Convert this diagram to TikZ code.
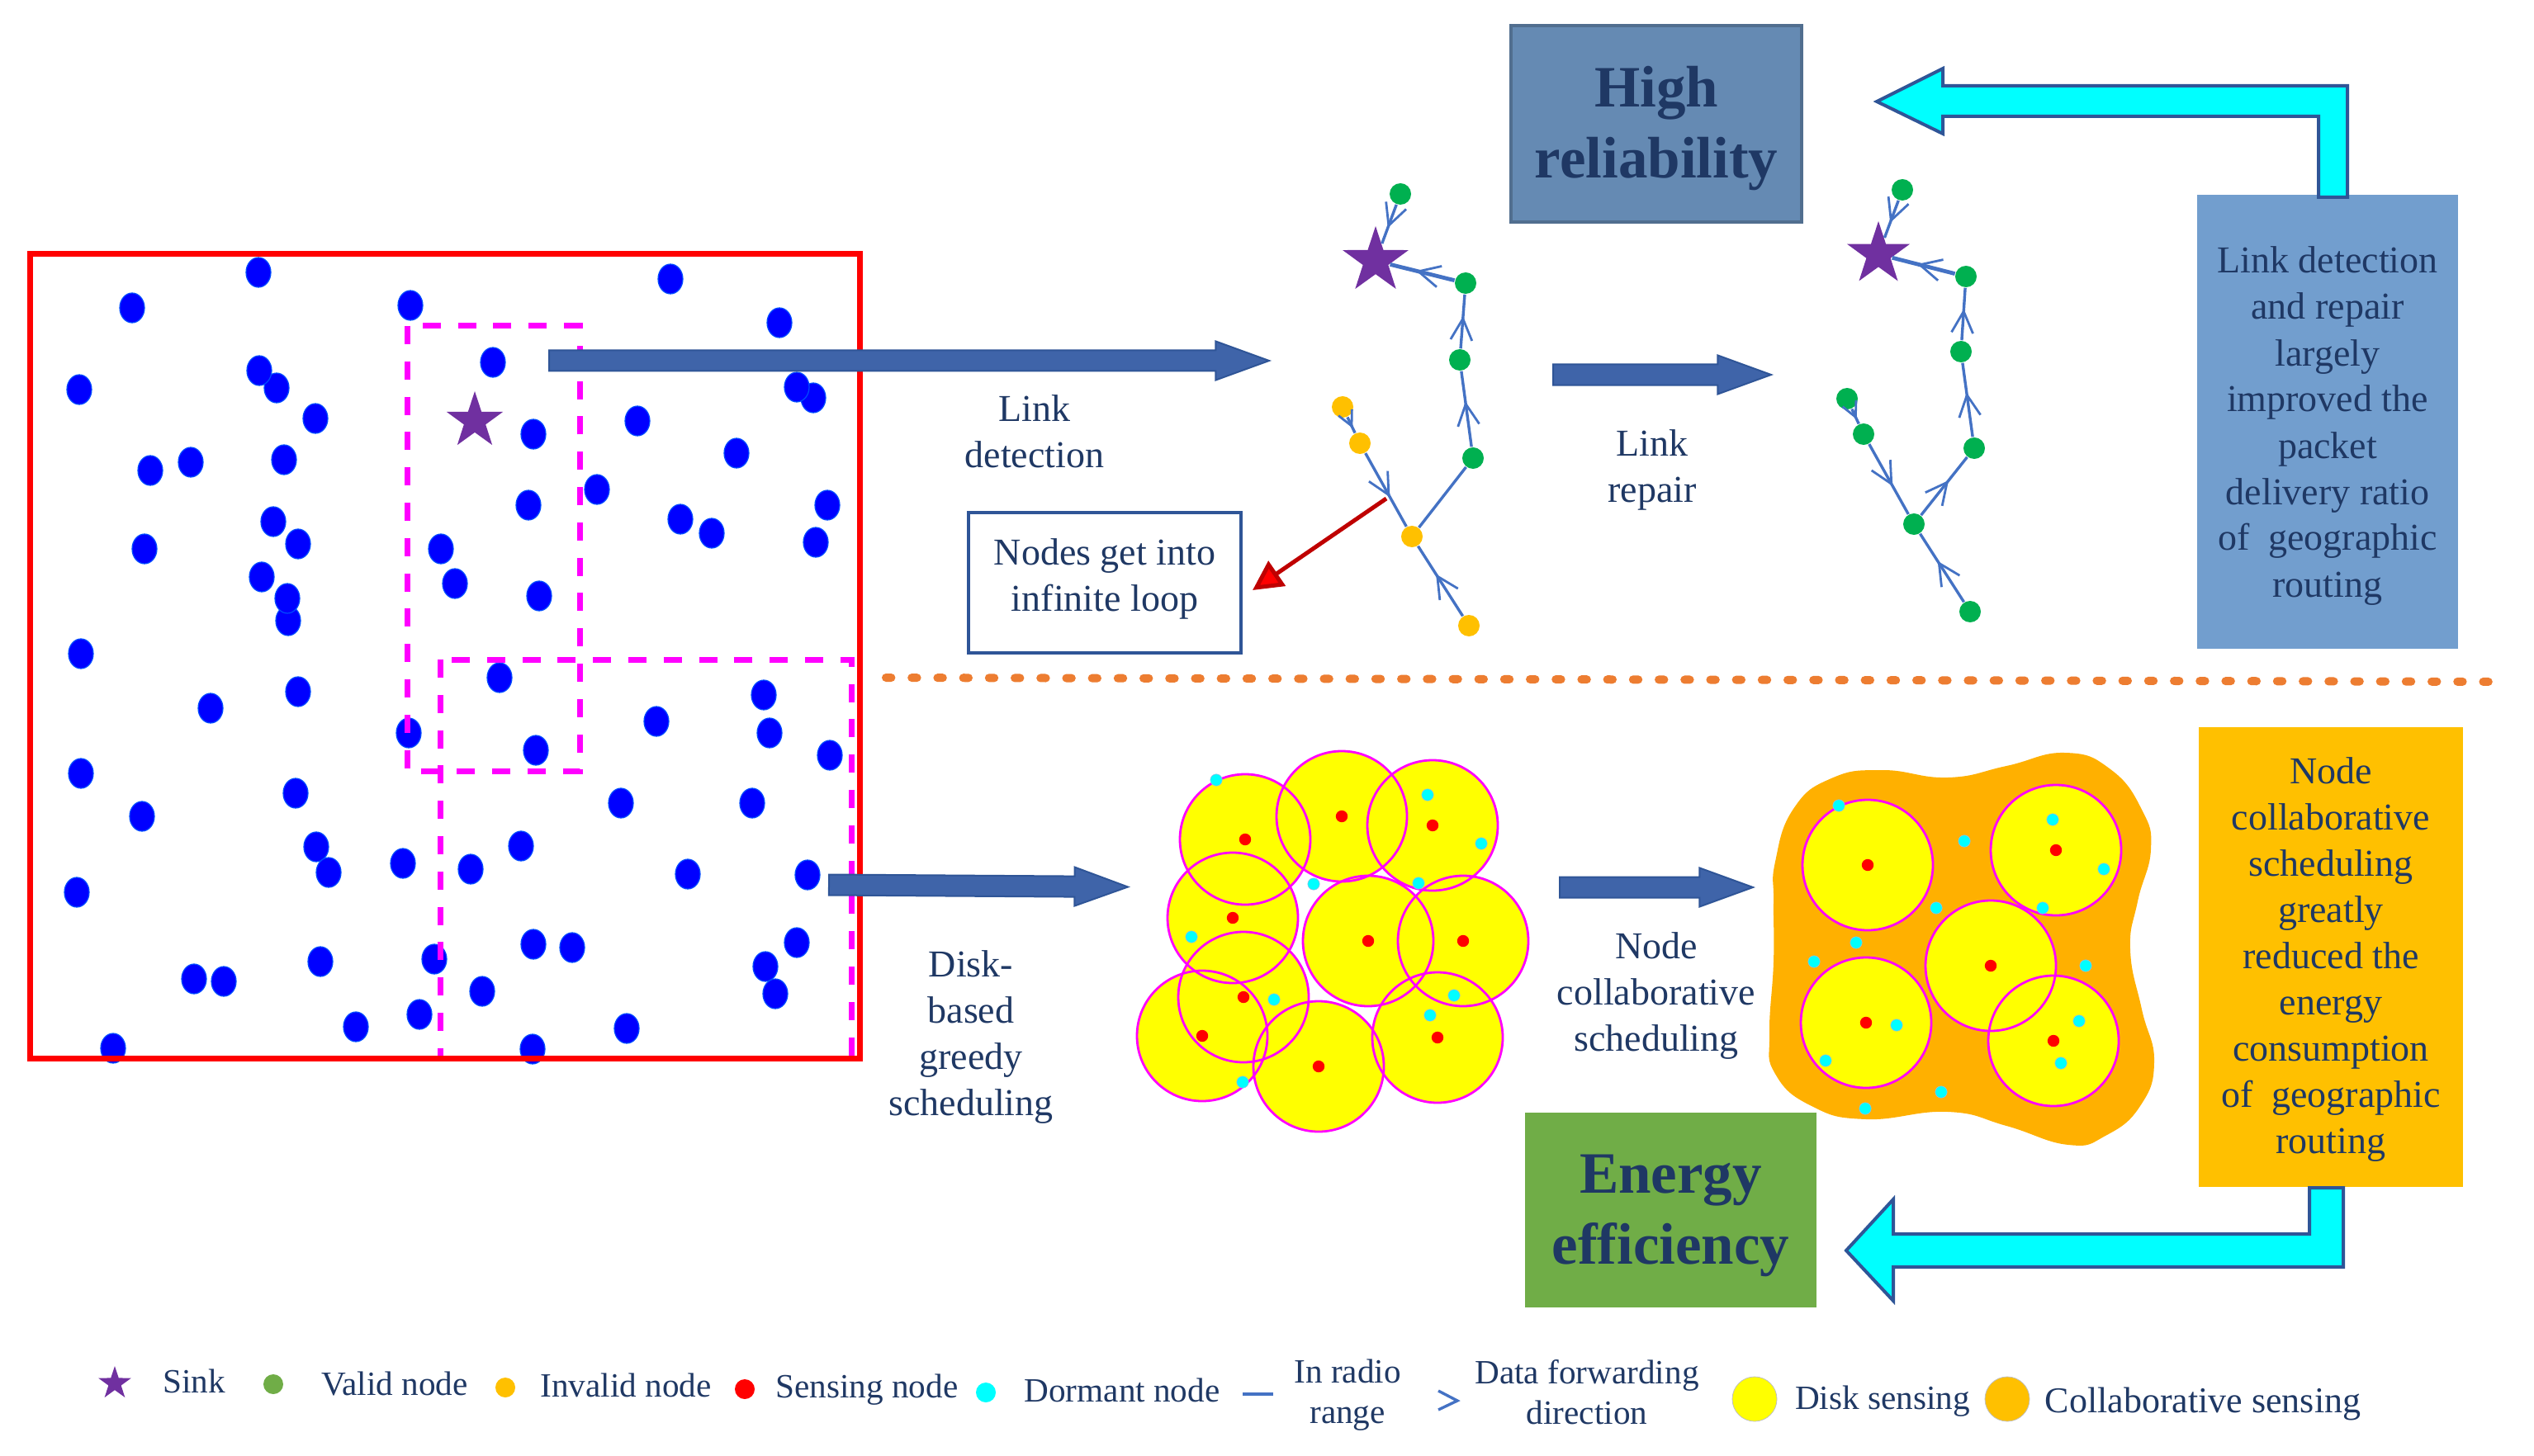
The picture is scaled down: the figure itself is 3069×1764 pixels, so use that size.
\documentclass[tikz,border=0pt]{standalone}
\usepackage{fontspec}
\setmainfont{Liberation Serif}
\usetikzlibrary{arrows.meta}
\usetikzlibrary{shapes.geometric}
\usetikzlibrary{shapes.arrows}
\usetikzlibrary{decorations.markings}
\definecolor{inkblue}{HTML}{1F3864}
\definecolor{linkblue}{HTML}{4472C4}
\definecolor{arrowblue}{HTML}{3F64A9}
\definecolor{arrowedge}{HTML}{2F5597}
\definecolor{validgreen}{HTML}{00B050}
\definecolor{legendgreen}{HTML}{70AD47}
\definecolor{invalidorange}{HTML}{FFC000}
\definecolor{collaborange}{HTML}{FFB000}
\definecolor{sinkpurple}{HTML}{7030A0}
\definecolor{linedots}{HTML}{ED7D31}
\definecolor{reliablebox}{HTML}{658AB3}
\definecolor{detectbox}{HTML}{729ECE}
\definecolor{purecyan}{HTML}{00FFFF}
\definecolor{puremagenta}{HTML}{FF00FF}
\definecolor{pureyellow}{HTML}{FFFF00}
\tikzset{
    > = stealth,
    label/.style = {text = inkblue, align = center, font = \fontsize{11.5}{14}\selectfont},
    keytext/.style = {text = inkblue, align = center, font = \fontsize{10.3}{12.2}\selectfont},
    goal/.style = {text = inkblue, align = center, font = \fontsize{17.75}{21.5}\selectfont\bfseries, inner sep = 0pt},
    sensor/.style = {ellipse, fill = blue, draw = blue!70!purecyan, line width = .3pt, inner sep = 0pt, minimum width = 7.5pt, minimum height = 9pt},
    sink/.style = {star, star points = 5, star point ratio = 2.6, fill = sinkpurple, inner sep = 0pt, minimum size = 20pt},
    treenode/.style = {circle, inner sep = 0pt, minimum size = 6.5pt},
    valid/.style = {treenode, fill = validgreen},
    invalid/.style = {treenode, fill = invalidorange},
    sensing/.style = {circle, fill = red, inner sep = 0pt, minimum size = 3.6pt},
    dormant/.style = {circle, fill = purecyan, draw = linkblue!50, line width = .15pt, inner sep = 0pt, minimum size = 3.6pt},
    diskfill/.style = {circle, fill = pureyellow, inner sep = 0pt, minimum size = 39.5pt},
    diskring/.style = {circle, draw = puremagenta, line width = .7pt, inner sep = 0pt, minimum size = 39.5pt},
    linkline/.style = {draw = linkblue, line width = .85pt},
    fwdlink/.style = {linkline, postaction = {decorate}, decoration = {markings, mark = at position .6 with {\arrow[line width = .7pt]{Straight Barb[length = 6.5pt, width = 6.5pt]}}}},
    shortlink/.style = {linkline, postaction = {decorate}, decoration = {markings, mark = at position .7 with {\arrow[line width = .7pt]{Straight Barb[length = 4.5pt, width = 4.5pt]}}}},
    region/.style = {draw = puremagenta, line width = 1.75pt, dash pattern = on 5.5pt off 5.2pt},
    blockarrow/.style = {single arrow, fill = arrowblue, draw = arrowedge, line width = .5pt, inner xsep = 0pt, inner ysep = 2.875pt, anchor = tail, minimum width = 11.25pt, single arrow head extend = 2.75pt, single arrow tip angle = 40},
    bentarrow/.style = {fill = purecyan, draw = arrowedge, line width = 1pt},
    keydot/.style = {circle, inner sep = 0pt, minimum size = 6pt},
    keydisk/.style = {circle, draw = black!25, line width = .2pt, inner sep = 0pt, minimum size = 13.5pt}
}
\newcommand{\diskcentres}{1508/1017, 1625/989, 1735/1000, 1493/1112, 1657/1140, 1772/1140, 1506/1208, 1456/1255, 1597/1292, 1741/1257}
\newcommand{\mergedcentres}{2262/1048, 2490/1030, 2411/1170, 2260/1239, 2487/1261}
\begin{document}
\begin{tikzpicture}[x = .25pt, y = -.25pt]
    \useasboundingbox (0, 0) rectangle (3069, 1764);

    \foreach \x/\y [count = \i] in {313/330, 160/373, 497/370, 812/338, 944/391, 96/472, 335/470, 314/449, 382/507, 597/439, 646/526, 772/510, 985/482, 965/469, 892/549, 182/570, 231/560, 344/557, 640/612, 723/593, 331/632, 361/659, 175/665, 534/665, 551/707, 824/629, 862/646, 1002/612, 988/657, 317/699, 349/752, 348/725, 653/722, 98/792, 361/838, 255/858, 605/821, 925/842, 795/874, 495/888, 649/909, 932/888, 1005/915, 98/937, 358/961, 172/989, 752/973, 911/973, 383/1026, 398/1057, 488/1046, 570/1053, 631/1025, 833/1059, 978/1060, 93/1081, 646/1144, 693/1148, 965/1142, 235/1186, 271/1189, 388/1165, 526/1162, 927/1171, 939/1204, 584/1201, 431/1244, 508/1229, 759/1246, 137/1270, 645/1271}
        \node[sensor] (sensor\i) at (\x, \y) {};
    \node[sink, minimum size = 18pt] (fieldsink) at (575, 510) {};
    \draw[region] (493, 395) rectangle (702, 934);
    \draw[region] (533, 799) rectangle (1031, 1282);
    \draw[red, line width = 1.75pt] (36, 308) rectangle (1041, 1282);

    \node[blockarrow, minimum height = 218pt] (detectarrow) at (664, 437) {};
    \node[blockarrow, minimum height = 66pt] (repairarrow) at (1880, 454) {};
    \node[blockarrow, minimum height = 90.5pt, rotate = -.4] (greedyarrow) at (1003, 1072) {};
    \node[blockarrow, minimum height = 58.5pt] (collabarrow) at (1888, 1075) {};

    \node[label] (linkdetection) at (1253, 523) {Link\\detection};
    \node[label] (linkrepair) at (2001, 569) {Link\\repair};
    \node[label] (diskgreedy) at (1176, 1256) {Disk-\\based\\greedy\\scheduling};
    \node[label] (nodecollab) at (2006, 1206) {Node\\collaborative\\scheduling};

    \node[fill = reliablebox, draw = reliablebox!80!black, line width = 1pt, minimum width = 88pt, minimum height = 59.5pt, inner sep = 0pt] (highreliability) at (2006, 150) {};
    \node[goal, yshift = -1.5pt] (highreliabilitytext) at (highreliability) {High\\reliability};
    \node[fill = legendgreen, minimum width = 88.25pt, minimum height = 59pt, inner sep = 0pt] (energyefficiency) at (2023.5, 1466) {};
    \node[goal, yshift = -1.75pt] (energytext) at (energyefficiency) {Energy\\efficiency};
    \node[fill = detectbox, minimum width = 79pt, minimum height = 137.25pt, inner sep = 0pt] (detectsummary) at (2819, 511) {};
    \node[label, yshift = -1.25pt] (detecttext) at (detectsummary) {Link detection\\and repair\\largely\\improved the\\packet\\delivery ratio\\of\hspace{.25em} geographic\\routing};
    \node[fill = invalidorange, minimum width = 80pt, minimum height = 139.25pt, inner sep = 0pt] (collabsummary) at (2823, 1159) {};
    \node[label, yshift = -.75pt] (collabtext) at (collabsummary) {Node\\collaborative\\scheduling\\greatly\\reduced the\\energy\\consumption\\of\hspace{.25em} geographic\\routing};
    \node[fill = white, draw = arrowedge, line width = .9pt, minimum width = 82.5pt, minimum height = 42.5pt, inner sep = 0pt] (loopbox) at (1338, 706) {};
    \node[label, yshift = 1.25pt] (looptext) at (loopbox) {Nodes get into\\infinite loop};

    \draw[bentarrow] (2273, 123) -- (2353, 83) -- (2353, 104) -- (2843, 104) -- (2843, 239) -- (2808, 239) -- (2808, 141) -- (2353, 141) -- (2353, 162) -- cycle;
    \draw[bentarrow] (2236, 1515) -- (2293, 1453) -- (2293, 1495) -- (2797, 1495) -- (2797, 1439) -- (2838, 1439) -- (2838, 1535) -- (2293, 1535) -- (2293, 1576) -- cycle;

    \node[valid] (a1) at (1696, 235) {};
    \node[sink, minimum size = 21pt] (asink) at (1666, 316) {};
    \node[valid] (a2) at (1775, 343) {};
    \node[valid] (a3) at (1768, 436) {};
    \node[valid] (a4) at (1784, 555) {};
    \node[invalid] (a5) at (1626, 493) {};
    \node[invalid] (a6) at (1647, 537) {};
    \node[invalid] (a7) at (1710, 650) {};
    \node[invalid] (a8) at (1779, 758) {};

    \draw (a1) edge[fwdlink] (asink);
    \draw (a2) edge[fwdlink, line width = 1.2pt] (asink);
    \draw (a3) edge[fwdlink] (a2);
    \draw (a4) edge[fwdlink] (a3);
    \draw (a7) edge[linkline] (a4);
    \draw (a5) edge[shortlink] (a6);
    \draw (a6) edge[fwdlink] (a7);
    \draw (a8) edge[fwdlink] (a7);

    \coordinate (loopstart) at (1679, 604);
    \coordinate (looptip) at (1517, 715);
    \draw[-{Triangle[length = 9pt, width = 9pt, fill = red]}, draw = red!75!black, line width = 1.25pt] (loopstart) -- (looptip);

    \node[valid] (b1) at (2304, 230) {};
    \node[sink] (bsink) at (2275, 308) {};
    \node[valid] (b2) at (2381, 335) {};
    \node[valid] (b3) at (2375, 426) {};
    \node[valid] (b4) at (2391, 543) {};
    \node[valid] (b5) at (2237, 483) {};
    \node[valid] (b6) at (2257, 526) {};
    \node[valid] (b7) at (2318, 635) {};
    \node[valid] (b8) at (2386, 741) {};

    \draw (b1) edge[fwdlink] (bsink);
    \draw (b2) edge[fwdlink, line width = 1.2pt] (bsink);
    \draw (b3) edge[fwdlink] (b2);
    \draw (b4) edge[fwdlink] (b3);
    \draw (b7) edge[fwdlink] (b4);
    \draw (b5) edge[shortlink] (b6);
    \draw (b6) edge[fwdlink] (b7);
    \draw (b8) edge[fwdlink] (b7);

    \coordinate (dividerstart) at (1073, 821);
    \coordinate (dividerend) at (3028, 826);
    \draw[linedots, line width = 2.5pt, line cap = round, dash pattern = on 1.6pt off 6.2pt] (dividerstart) -- (dividerend);

    \foreach \x/\y in \diskcentres
        \node[diskfill] at (\x, \y) {};
    \foreach \x/\y [count = \i] in \diskcentres {
        \node[diskring] (disk\i) at (\x, \y) {};
        \node[sensing] (diskhead\i) at (\x, \y) {};
    }
    \foreach \x/\y [count = \i] in {1473/945, 1729/963, 1794/1022, 1591/1071, 1718/1070, 1443/1135, 1543/1211, 1761/1206, 1732/1230, 1505/1311}
        \node[dormant] (sleep\i) at (\x, \y) {};

    \fill[collaborange] plot[smooth cycle, tension = .8] coordinates {(2150, 1044) (2172, 980) (2218, 943) (2280, 933) (2359, 942) (2430, 928) (2501, 912) (2556, 932) (2594, 981) (2605, 1029) (2589, 1092) (2580, 1151) (2594, 1223) (2609, 1286) (2592, 1340) (2550, 1376) (2505, 1387) (2430, 1364) (2359, 1347) (2260, 1356) (2194, 1340) (2150, 1301) (2143, 1252) (2148, 1165) (2148, 1092)};
    \foreach \x/\y in \mergedcentres
        \node[diskfill] at (\x, \y) {};
    \foreach \x/\y [count = \i] in \mergedcentres {
        \node[diskring] (merged\i) at (\x, \y) {};
        \node[sensing] (mergedhead\i) at (\x, \y) {};
    }
    \foreach \x/\y [count = \i] in {2227/976, 2379/1019, 2486/993, 2548/1053, 2345/1100, 2474/1100, 2248/1142, 2197/1165, 2526/1170, 2297/1242, 2211/1285, 2518/1237, 2496/1288, 2351/1323, 2259/1343}
        \node[dormant] (mergedsleep\i) at (\x, \y) {};

    \node[sink, minimum size = 10.5pt] (keysink) at (139, 1676) {};
    \node[keytext] (keysinktext) at (235, 1673) {Sink};
    \node[keydot, fill = legendgreen] (keyvalid) at (331, 1677) {};
    \node[keytext] (keyvalidtext) at (478, 1676) {Valid node};
    \node[keydot, fill = invalidorange] (keyinvalid) at (612, 1681) {};
    \node[keytext] (keyinvalidtext) at (758, 1678) {Invalid node};
    \node[keydot, fill = red] (keysensing) at (902, 1683) {};
    \node[keytext] (keysensingtext) at (1050, 1684) {Sensing node};
    \node[keydot, fill = purecyan] (keydormant) at (1194, 1687) {};
    \node[keytext] (keydormanttext) at (1359, 1684) {Dormant node};
    \coordinate (keylinestart) at (1505, 1689);
    \coordinate (keylineend) at (1542, 1689);
    \draw[linkline] (keylinestart) -- (keylineend);
    \node[keytext] (keyrange) at (1632, 1690) {In radio\\range};
    \draw[linkline] (1742, 1685) -- (1765, 1697) -- (1742, 1708);
    \node[keytext] (keydirection) at (1922, 1687) {Data forwarding\\direction};
    \node[keydisk, fill = pureyellow] (keydisk) at (2125, 1695) {};
    \node[keytext] (keydisktext) at (2280, 1698) {Disk sensing};
    \node[keydisk, fill = invalidorange] (keycollab) at (2431, 1695) {};
    \node[keytext, font = \fontsize{11}{13}\selectfont] (keycollabtext) at (2668, 1701) {Collaborative sensing};
\end{tikzpicture}
\end{document}
